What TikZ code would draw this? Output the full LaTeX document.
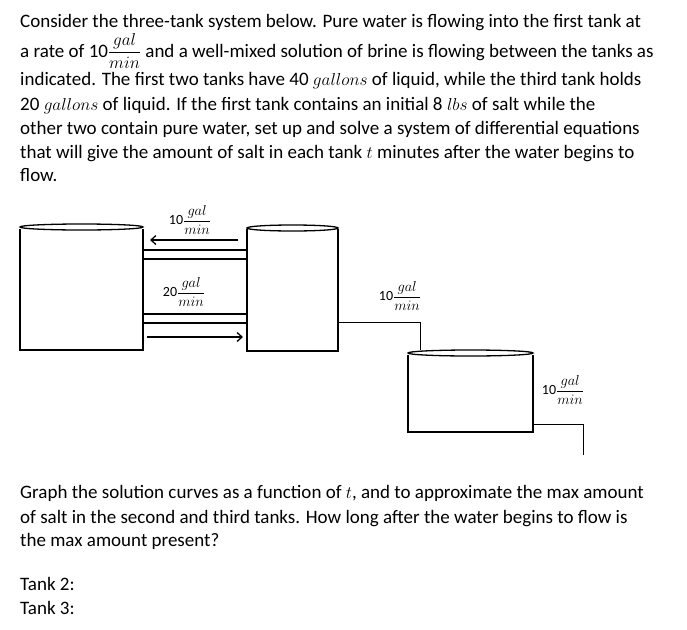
\documentclass[tikz,border=0pt]{standalone}
\usepackage{fontspec}
\usetikzlibrary{arrows.meta}
\setmainfont{Carlito}
\newcommand{\gpm}{\displaystyle\frac{gal}{min}}
\begin{document}
\begin{tikzpicture}[x=1pt,y=-1pt,
 txt/.style={anchor=base west,inner sep=0pt,font=\fontsize{19}{22}\selectfont},
 lab/.style={inner sep=0pt,font=\fontsize{14}{16}\selectfont},
 wall/.style={draw,line width=1.3pt},
 arr/.style={draw,line width=1.3pt,-{Straight Barb[length=5pt,width=9pt]}}]
\useasboundingbox (0,0) rectangle (687,629);
\node[txt] (l1) at (20,27) {Consider the three-tank system below. Pure water is flowing into the first tank at};
\node[txt] (l2) at (20,57) {a rate of 10$\gpm$ and a well-mixed solution of brine is flowing between the tanks as};
\node[txt] (l3) at (20,85) {indicated. The first two tanks have 40 $gallons$ of liquid, while the third tank holds};
\node[txt] (l4) at (20,110) {20 $gallons$ of liquid. If the first tank contains an initial 8 $lbs$ of salt while the};
\node[txt] (l5) at (20,134) {other two contain pure water, set up and solve a system of differential equations};
\node[txt] (l6) at (20,158) {that will give the amount of salt in each tank $t$ minutes after the water begins to};
\node[txt] (l7) at (20,181) {flow.};
\node[txt] (b1) at (20,498) {Graph the solution curves as a function of $t$, and to approximate the max amount};
\node[txt] (b2) at (20,523) {of salt in the second and third tanks. How long after the water begins to flow is};
\node[txt] (b3) at (20,546) {the max amount present?};
\node[txt] (t2) at (20,590) {Tank 2:};
\node[txt] (t3) at (20,614) {Tank 3:};
% tanks
\draw[wall] (20,229) -- (20,350) -- (143,350) -- (143,229);
\draw[wall] (81.5,227) ellipse (61.5 and 3);
\draw[wall] (247,229) -- (247,351) -- (338,351) -- (338,229);
\draw[wall] (292.5,228) ellipse (45.5 and 3);
\draw[wall] (408,355) -- (408,432) -- (533,432) -- (533,355);
\draw[wall] (470.5,353) ellipse (62.5 and 3);
% pipes
\draw[wall] (143,250) -- (247,250) (143,259) -- (247,259);
\draw[wall] (143,314) -- (247,314) (143,323) -- (247,323);
\draw[line width=1pt] (338,322) -- (420,322) -- (420,350);
\draw[line width=1pt] (533,424) -- (583,424) -- (583,455);
\coordinate (a1s) at (238,240); \coordinate (a1e) at (150,240);
\coordinate (a2s) at (147,337); \coordinate (a2e) at (243,337);
\draw[arr] (a1s) -- (a1e);
\draw[arr] (a2s) -- (a2e);
\node[lab] (f1) at (190,220) {10$\gpm$};
\node[lab] (f2) at (184,292) {20$\gpm$};
\node[lab] (f3) at (400,296) {10$\gpm$};
\node[lab] (f4) at (563,390) {10$\gpm$};
\end{tikzpicture}
\end{document}
